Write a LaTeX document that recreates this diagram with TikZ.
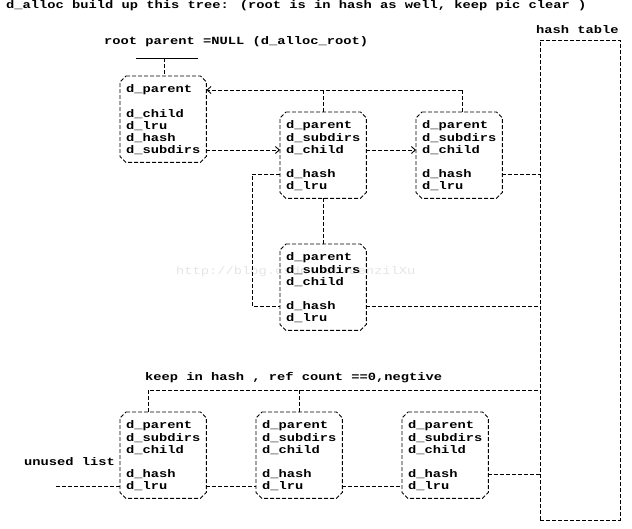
\documentclass[tikz,border=0pt]{standalone}
\usepackage{fontspec}
\newfontfamily\mono[FakeStretch=1.25]{Liberation Mono}
\usetikzlibrary{arrows.meta,calc}
\begin{document}
\begin{tikzpicture}[x=1pt,y=-1pt,
  every node/.style={font=\mono\bfseries\fontsize{11}{12}\selectfont, inner sep=0pt},
  db/.style={rectangle, minimum width=86pt, minimum height=86pt, anchor=north west},
  con/.style={line width=0.9pt, dash pattern=on 4pt off 2pt},
  lbl/.style={anchor=west},
  tip/.style={-{Straight Barb[length=4pt,width=7pt]}}]
\useasboundingbox (0,0) rectangle (632,528);
\newcommand{\rows}[2]{\foreach \t [count=\i from 0] in {#2} \node[lbl] at ($(#1.north west)+(6,14+12*\i)$) {\t};
  \draw[con] ($(#1.north west)+(6,0)$) -- ($(#1.north east)+(-6,0)$) -- ($(#1.north east)+(0,6)$) -- ($(#1.south east)+(0,-6)$) -- ($(#1.south east)+(-6,0)$) -- ($(#1.south west)+(6,0)$) -- ($(#1.south west)+(0,-6)$) -- ($(#1.north west)+(0,6)$) -- cycle;}
\node[lbl, text=black!10] (wm) at (176,272) {\mdseries http://blog.csdn.net/DenzilXu};
\node[lbl] (title) at (6,6) {d\_alloc build up this tree: (root is in hash as well, keep pic clear )};
\node[lbl] (rootlbl) at (104,42) {root parent =NULL (d\_alloc\_root)};
\node[lbl] (htlbl) at (536,30) {hash table};
\node[lbl] (keeplbl) at (145,378) {keep in hash , ref count ==0,negtive};
\node[lbl] (unused) at (24,462) {unused list};
% boxes
\node[db] (b1) at (120,76) {}; \rows{b1}{d\_parent,,d\_child,d\_lru,d\_hash,d\_subdirs}
\node[db] (b2) at (280,112) {}; \rows{b2}{d\_parent,d\_subdirs,d\_child,,d\_hash,d\_lru}
\node[db] (b3) at (416,112) {}; \rows{b3}{d\_parent,d\_subdirs,d\_child,,d\_hash,d\_lru}
\node[db] (b4) at (280,244) {}; \rows{b4}{d\_parent,d\_subdirs,d\_child,,d\_hash,d\_lru}
\node[db] (b5) at (120,412) {}; \rows{b5}{d\_parent,d\_subdirs,d\_child,,d\_hash,d\_lru}
\node[db] (b6) at (256,412) {}; \rows{b6}{d\_parent,d\_subdirs,d\_child,,d\_hash,d\_lru}
\node[db] (b7) at (402,412) {}; \rows{b7}{d\_parent,d\_subdirs,d\_child,,d\_hash,d\_lru}
\node[draw, con, minimum width=80pt, minimum height=480pt, anchor=north west] (ht) at (540,40) {};
% coordinates
\foreach \y in {58,90,150,174,306,390,474,486} \coordinate (y\y) at (0,\y);
\coordinate (rootc) at (164,58);
\coordinate (topc) at (462,90);
\coordinate (lc) at (252,174);
\coordinate (kc) at (148,390);
\coordinate (free) at (56,486);
% root
\draw[line width=0.9pt] (136,58) -- (198,58);
\draw[con] (rootc) -- (rootc |- b1.north);
% parent back links
\draw[con,tip] (topc) -- (b1.east |- y90);
\draw[con] (topc) -- (topc |- b3.north);
\draw[con] (b2.north |- y90) -- (b2.north);
% subdirs / child
\draw[con,tip] (b1.east |- y150) -- (b2.west |- y150);
\draw[con,tip] (b2.east |- y150) -- (b3.west |- y150);
\draw[con] (b3.east |- y174) -- (ht.west |- y174);
\draw[con] (b2.west |- y174) -- (lc) -- (lc |- y306) -- (b4.west |- y306);
\draw[con] (b2.south) -- (b4.north);
\draw[con] (b4.east |- y306) -- (ht.west |- y306);
% bottom
\draw[con] (kc |- b5.north) -- (kc) -- (ht.west |- y390);
\draw[con] (b6.north |- y390) -- (b6.north);
\draw[con] (free) -- (b5.west |- y486);
\draw[con] (b5.east |- y486) -- (b6.west |- y486);
\draw[con] (b6.east |- y486) -- (b7.west |- y486);
\draw[con] (b7.east |- y474) -- (ht.west |- y474);
\end{tikzpicture}
\end{document}
